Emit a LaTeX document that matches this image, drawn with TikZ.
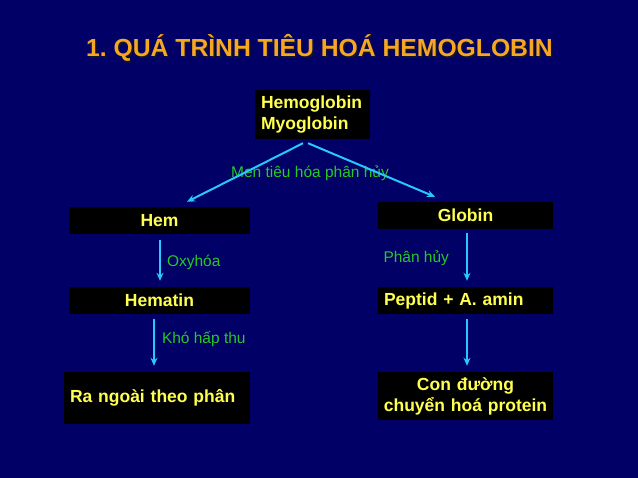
\documentclass[tikz,border=0pt]{standalone}
\usepackage{fontspec}
\setmainfont{Liberation Sans}
\usetikzlibrary{arrows.meta}
\definecolor{bg}{RGB}{0,0,102}
\definecolor{ttl}{RGB}{245,166,35}
\definecolor{ttlshadow}{RGB}{20,20,40}
\definecolor{yel}{RGB}{255,255,80}
\definecolor{grn}{RGB}{40,200,40}
\definecolor{cyn}{RGB}{40,200,255}
\frenchspacing
\begin{document}
\begin{tikzpicture}[x=1pt,y=-1pt,
  box/.style={fill=black, text=yel, font=\fontsize{17.5}{21}\selectfont\bfseries, inner sep=0pt},
  lbl/.style={text=grn, font=\fontsize{15.5}{18}\selectfont, inner sep=0pt},
  arr/.style={draw=cyn, line width=2pt, -{Stealth[length=8pt,width=7pt]}},
  ttlfont/.style={font=\fontsize{24.7}{28}\selectfont\bfseries, inner sep=0pt, anchor=base}]
\fill[bg] (0,0) rectangle (638,478);
\useasboundingbox (0,0) rectangle (638,478);
% title
\node[ttlfont, text=ttlshadow] (titleshadow) at (321,58.5) {1. QUÁ TRÌNH TIÊU HOÁ HEMOGLOBIN};
\node[ttlfont, text=ttl] (title) at (319.5,57) {1. QUÁ TRÌNH TIÊU HOÁ HEMOGLOBIN};
% boxes
\node[box, minimum width=115pt, minimum height=49pt, text width=103pt, align=left] (hb) at (312.5,114.5) {Hemoglobin\\Myoglobin};
\node[box, minimum width=181pt, minimum height=27pt] (hem) at (159.5,220.5) {Hem};
\node[box, minimum width=175pt, minimum height=27pt] (globin) at (465.5,215.5) {Globin};
\node[box, minimum width=181pt, minimum height=27pt] (hematin) at (159.5,300.5) {Hematin};
\node[box, minimum width=175pt, minimum height=27pt, text width=163pt, align=left] (peptid) at (465.5,300.5) {Peptid + A. amin};
\node[box, minimum width=186pt, minimum height=52pt, text width=174pt, align=left] (ra) at (157,398) {Ra ngoài theo phân};
\node[box, minimum width=175pt, minimum height=48pt, text width=175pt, align=center] (con) at (465.5,396) {Con đường\\chuyển hoá protein};
% label
\node[lbl] (men) at (310,173) {Men tiêu hóa phân hủy};
% arrows
\draw[arr] ([xshift=-9.5pt,yshift=-4pt]hb.south) -- ([xshift=27.5pt,yshift=5pt]hem.north);
\draw[arr] ([xshift=-4.5pt,yshift=-4pt]hb.south) -- ([xshift=-30.5pt,yshift=5pt]globin.north);
\draw[arr] ([xshift=0.5pt,yshift=-6pt]hem.south) -- node[lbl, right=6pt, pos=0.55] (oxy) {Oxyhóa} ([xshift=0.5pt,yshift=6pt]hematin.north);
\draw[arr] ([xshift=-5.5pt,yshift=-5pt]hematin.south) -- node[lbl, right=7pt, pos=0.42] (kho) {Khó hấp thu} ([xshift=-3pt,yshift=6pt]ra.north);
\draw[arr] ([xshift=1.5pt,yshift=-4pt]globin.south) -- node[lbl, left=17pt, pos=0.52] (phan) {Phân hủy} ([xshift=1.5pt,yshift=6pt]peptid.north);
\draw[arr] ([xshift=1.5pt,yshift=-5pt]peptid.south) -- ([xshift=1.5pt,yshift=6pt]con.north);
\end{tikzpicture}
\end{document}
